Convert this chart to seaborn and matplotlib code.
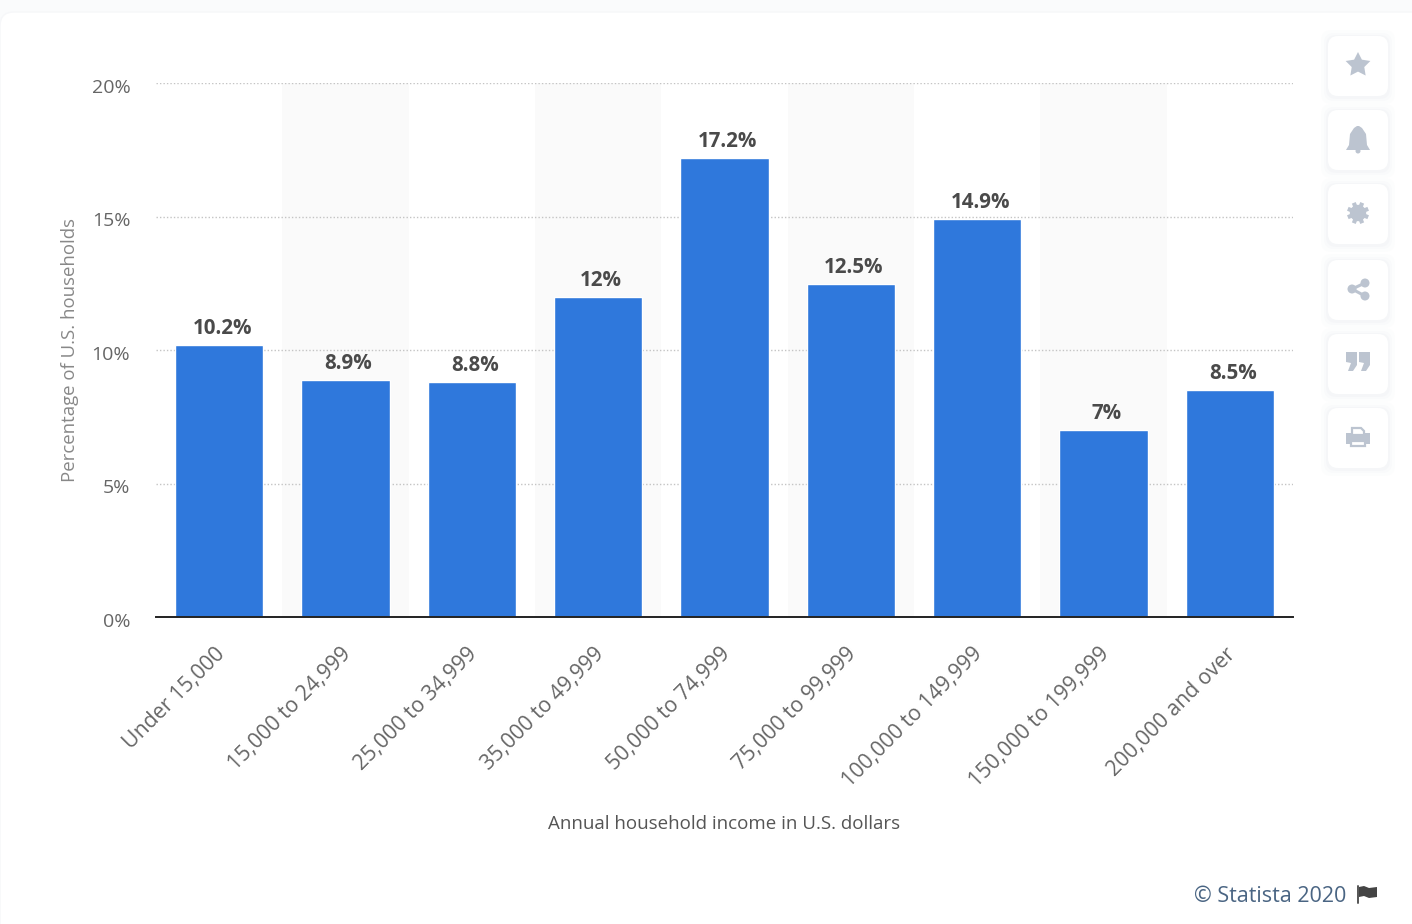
import numpy as np
import pandas as pd
import seaborn as sns
import matplotlib
matplotlib.use("Agg")
import matplotlib.pyplot as plt
from matplotlib.patches import FancyBboxPatch, Circle, Polygon, Rectangle
from matplotlib.transforms import ScaledTranslation

## data ##
income_groups = ["Under 15,000", "15,000 to 24,999", "25,000 to 34,999", "35,000 to 49,999",
                 "50,000 to 74,999", "75,000 to 99,999", "100,000 to 149,999",
                 "150,000 to 199,999", "200,000 and over"]
share_values = [10.2, 8.9, 8.8, 12, 17.2, 12.5, 14.9, 7, 8.5]
y_ticks = [0, 5, 10, 15, 20]

W, H = 1412, 924
BLUE = "#2f78dc"
ICON = "#bcc4d0"

sns.set_theme(style="white")
plt.rcParams["font.family"] = ["Open Sans", "DejaVu Sans"]

fig = plt.figure(figsize=(W / 100, H / 100), dpi=100, facecolor="#fafbfc")

## page card and side buttons, drawn in pixel coords ##
bg = fig.add_axes([0, 0, 1, 1], zorder=0)
bg.set_xlim(0, W)
bg.set_ylim(H, 0)
bg.axis("off")
bg.add_patch(FancyBboxPatch((8, 20), W + 40, H + 40, boxstyle="round,pad=8,rounding_size=14",
                            fc="white", ec="#f6f7f9", lw=1))

for top in [36, 110, 184, 260, 334, 408]:
    for grow, alpha in [(7, 0.12), (4, 0.2), (2, 0.3)]:
        bg.add_patch(FancyBboxPatch((1334 - grow, top + 6 - grow + 1), 48 + 2 * grow, 48 + 2 * grow,
                                    boxstyle="round,pad=6,rounding_size=10", fc="#eef0f4",
                                    ec="none", alpha=alpha))
    bg.add_patch(FancyBboxPatch((1334, top + 6), 48, 48, boxstyle="round,pad=6,rounding_size=10",
                                fc="white", ec="none"))

# star
star_ang = np.deg2rad(np.arange(0, 360, 36) - 90)
star_rad = np.array([13, 6.6] * 5)
bg.add_patch(Polygon(np.c_[1358 + star_rad * np.cos(star_ang), 65 + star_rad * np.sin(star_ang)],
                     fc=ICON, ec="none"))
# bell
bg.add_patch(Polygon([(1346, 150), (1349, 145), (1350, 134), (1354, 128), (1357, 126), (1359, 126),
                      (1362, 128), (1366, 134), (1367, 145), (1370, 150)], fc=ICON, ec="none"))
bg.add_patch(Circle((1358, 151), 2.5, fc=ICON, ec="none"))
# gear
for a in np.deg2rad(np.arange(0, 180, 45) + 22.5):
    bg.plot([1358 - 11 * np.cos(a), 1358 + 11 * np.cos(a)], [213 - 11 * np.sin(a), 213 + 11 * np.sin(a)],
            color=ICON, lw=3, solid_capstyle="butt")
bg.add_patch(Circle((1358, 213), 8.2, fc=ICON, ec="none"))
bg.add_patch(Circle((1358, 213), 3.4, fc="white", ec="none"))
# share
bg.plot([1365, 1352, 1365], [283, 289, 296], color=ICON, lw=2.2)
for cx, cy in [(1365, 283), (1352, 289), (1365, 296)]:
    bg.add_patch(Circle((cx, cy), 4.5, fc=ICON, ec="none"))
# quote
for dx in [0, 13]:
    bg.add_patch(Polygon([(1346 + dx, 352), (1357 + dx, 352), (1357 + dx, 365), (1353 + dx, 371),
                          (1348 + dx, 371), (1351 + dx, 363), (1346 + dx, 362)], fc=ICON, ec="none"))
# printer
bg.add_patch(Rectangle((1346, 433), 24, 11, fc=ICON, ec="none"))
bg.add_patch(Polygon([(1352, 428), (1361, 428), (1364, 431), (1364, 435), (1352, 435)],
                     fc="white", ec=ICON, lw=1.6))
bg.add_patch(Rectangle((1351, 441), 14, 5, fc="white", ec=ICON, lw=1.6))

## chart ##
ax_left, ax_right, ax_top, ax_bottom = 156, 1293, 83.3, 617.3
ax = fig.add_axes([ax_left / W, 1 - ax_bottom / H, (ax_right - ax_left) / W, (ax_bottom - ax_top) / H],
                  zorder=1)
ax.patch.set_alpha(0)

df = pd.DataFrame({"income": income_groups, "share": share_values})
sns.barplot(data=df, x="income", y="share", color=BLUE, saturation=1, width=0.7, ax=ax, zorder=3)

ax.set_xlim(-0.5, len(income_groups) - 0.5)
ax.set_ylim(0, 20)

# alternating bands behind the bars
for i in range(1, len(income_groups), 2):
    ax.axvspan(i - 0.5, i + 0.5, color="#fafafa", lw=0, zorder=0)

ax.set_yticks(y_ticks)
ax.set_yticklabels([str(t) + "%" for t in y_ticks], fontsize=14, color="#666666")
ax.tick_params(axis="y", length=0, pad=18.5)
for lab in ax.get_yticklabels():
    lab.set_transform(lab.get_transform() + ScaledTranslation(0, -2.5 / 100, fig.dpi_scale_trans))

ax.set_xticks(range(len(income_groups)))
ax.set_xticklabels(income_groups, rotation=45, ha="right", rotation_mode="anchor",
                   fontsize=15.3, color="#666666")
ax.tick_params(axis="x", length=0, pad=19)
for lab in ax.get_xticklabels():
    lab.set_transform(lab.get_transform() + ScaledTranslation(-5 / 100, 0, fig.dpi_scale_trans))

ax.yaxis.grid(True, linestyle=(0, (1, 1.5)), color="#c4c4c4", lw=1, zorder=1)
ax.set_axisbelow(False)
for line in ax.get_ygridlines():
    line.set_zorder(1)
sns.despine(ax=ax, left=True, right=True, top=True)
ax.spines["bottom"].set_color("#222222")
ax.spines["bottom"].set_linewidth(1.4)
ax.spines["bottom"].set_zorder(5)

# value labels on top of the bars
for i, v in enumerate(share_values):
    ax.annotate(str(v) + "%", (i, v), xytext=(3, 6), textcoords="offset pixels", ha="center",
                va="bottom", fontsize=14.8, fontweight="bold", color="#4a4a4a", zorder=6)

ax.set_xlabel("Annual household income in U.S. dollars", fontsize=13.5, color="#555555")
ax.xaxis.set_label_coords(0.4995, -(824 - ax_bottom) / (ax_bottom - ax_top), ax.transAxes)
ax.xaxis.label.set_va("center")
ax.set_ylabel("Percentage of U.S. households", fontsize=13.4, color="#888888")
ax.yaxis.set_label_coords(-(ax_left - 70) / (ax_right - ax_left), 0.5, ax.transAxes)
ax.yaxis.label.set_va("center")

## footer ##
bg.text(1346, 896, "© Statista 2020", ha="right", va="center", fontsize=15.5, color="#4a6583")
bg.plot([1358, 1358], [886, 903], color="#555555", lw=1.4)
bg.add_patch(Polygon([(1359, 887), (1364, 886), (1369, 888), (1377, 887), (1377, 897), (1369, 898),
                      (1364, 896), (1359, 897)], fc="#444444", ec="none"))

fig.savefig("out.png", dpi=100, facecolor=fig.get_facecolor())
